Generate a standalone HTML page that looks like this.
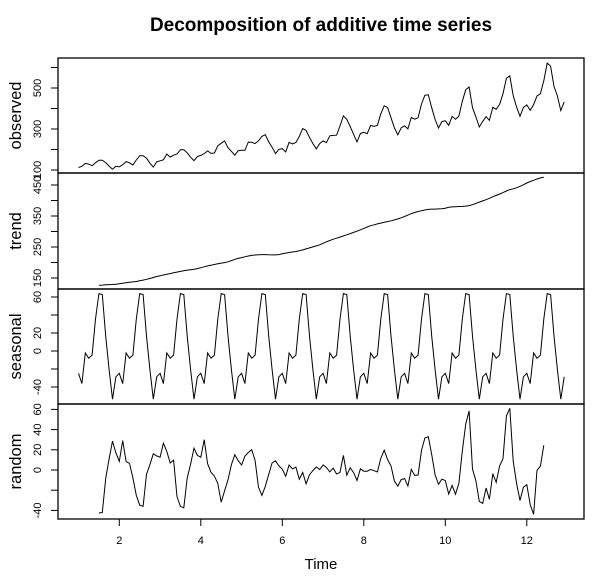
<!DOCTYPE html>
<html><head><meta charset="utf-8"><style>
body{margin:0;background:#fff;}
svg{display:block;font-family:"Liberation Sans",Arial,sans-serif;}
</style></head><body>
<svg id="c" width="603" height="585" viewBox="0 0 603 585">
<text x="321" y="31" text-anchor="middle" font-size="19" font-weight="bold">Decomposition of additive time series</text>
<text x="321" y="569" text-anchor="middle" font-size="15">Time</text>
</svg>
<script>
const observed=[112,118,132,129,121,135,148,148,136,119,104,118,115,126,141,135,125,149,170,170,158,133,114,140,145,150,178,163,172,178,199,199,184,162,146,166,171,180,193,181,183,218,230,242,209,191,172,194,196,196,236,235,229,243,264,272,237,211,180,201,204,188,235,227,234,264,302,293,259,229,203,229,242,233,267,269,270,315,364,347,312,274,237,278,284,277,317,313,318,374,413,405,355,306,271,306,315,301,356,348,355,422,465,467,404,347,305,336,340,318,362,348,363,435,491,505,404,359,310,337,360,342,406,396,420,472,548,559,463,407,362,405,417,391,419,461,472,535,622,606,508,461,390,432];
const seasonalFigure=[-24.75,-36.19,-2.24,-8.04,-4.51,35.40,63.83,62.82,16.52,-20.64,-53.59,-28.62];
const xTicks=[2,4,6,8,10,12];
const obsTicks=[100,200,300,400,500,600], obsLabels=[100,300,500];
const trendTicks=[150,200,250,300,350,400,450], trendLabels=[150,250,350,450];
const seasTicks=[-40,-20,0,20,40,60], seasLabels=[-40,0,20,60];
const randTicks=[-40,-20,0,20,40,60], randLabels=[-40,0,20,40,60];

const NS='http://www.w3.org/2000/svg';
const svg=document.getElementById('c');
const X=t=>119.3+(t-2)*40.75;
const tm=i=>1+i/12;
function el(tag,attrs,parent){const e=document.createElementNS(NS,tag);for(const k in attrs)e.setAttribute(k,attrs[k]);(parent||svg).appendChild(e);return e;}

const n=observed.length;
const trend=new Array(n).fill(null);
for(let i=6;i<n-6;i++){let s=0.5*observed[i-6]+0.5*observed[i+6];for(let j=i-5;j<=i+5;j++)s+=observed[j];trend[i]=s/12;}
const seasonal=observed.map((v,i)=>seasonalFigure[i%12]);
const random=observed.map((v,i)=>trend[i]==null?null:v-trend[i]-seasonal[i]);

const panels=[
 {name:'observed',data:observed,top:58,bot:173,Y:v=>170-(v-100)*0.205,ticks:obsTicks,labels:obsLabels},
 {name:'trend',data:trend,top:173,bot:289,Y:v=>278-(v-150)*0.31,ticks:trendTicks,labels:trendLabels},
 {name:'seasonal',data:seasonal,top:289,bot:404,Y:v=>351-v*0.9,ticks:seasTicks,labels:seasLabels},
 {name:'random',data:random,top:404,bot:519,Y:v=>470-v*1.01,ticks:randTicks,labels:randLabels}
];
panels.forEach(p=>{
 const g=el('g',{});
 
 
 let d='',pen=false;
 p.data.forEach((v,i)=>{if(v==null){pen=false;return;}d+=(pen?'L':'M')+X(tm(i)).toFixed(1)+' '+p.Y(v).toFixed(1);pen=true;});
 const line=el('path',{d:d,fill:'none',stroke:'#000','stroke-width':1},g);
 
 
 const box=el('rect',{x:58,y:p.top,width:526,height:p.bot-p.top,fill:'none',stroke:'#000','stroke-width':1.3},g);
 
 
 p.ticks.forEach(t=>{const y=p.Y(t);const tk=el('line',{x1:51,x2:58,y1:y,y2:y,stroke:'#000'},g);
  
  });
 p.labels.forEach(t=>{const y=p.Y(t);const tx=el('text',{x:0,y:0,transform:`translate(41 ${y}) rotate(-90)`,'text-anchor':'middle','font-size':11},g);tx.textContent=t;
  
  });
 const yl=el('text',{x:0,y:0,transform:`translate(21 ${(p.top+p.bot)/2}) rotate(-90)`,'text-anchor':'middle','font-size':16.5},g);yl.textContent=p.name;
 
 
});
xTicks.forEach(t=>{const x=X(t);const tk=el('line',{x1:x,x2:x,y1:519,y2:526,stroke:'#000'});
 
 
 const tx=el('text',{x:x,y:544,'text-anchor':'middle','font-size':11});tx.textContent=t;
 
 });
</script>
</body></html>
